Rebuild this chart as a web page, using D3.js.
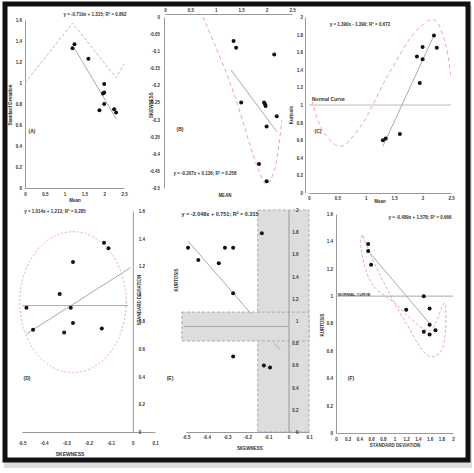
<!DOCTYPE html><html><head><script src="https://cdn.jsdelivr.net/npm/d3@7"></script>
<style>body{margin:0;background:#fff}text{font-family:"Liberation Sans",Arial,sans-serif;font-weight:bold;fill:#333}</style></head><body>
<svg id="s" width="474" height="473"></svg>
<script>
// Data
const aMean=[1.2,1.25,1.6,2.0,1.97,2.0,2.0,1.88,2.25,2.3];
const aSD=[1.33,1.37,1.23,0.99,0.90,0.91,0.80,0.74,0.75,0.72];
const bMean=[1.35,1.4,2.15,1.5,1.95,1.97,1.98,2.2,2.0,1.85,2.0];
const bSkew=[-0.07,-0.09,-0.11,-0.25,-0.25,-0.255,-0.26,-0.29,-0.32,-0.43,-0.48];
const cMean=[1.3,1.35,1.6,1.9,2.0,2.0,1.95,2.2,2.25];
const cKurt=[0.6,0.62,0.67,1.55,1.66,1.52,1.25,1.79,1.65];
const dSkew=[-0.48,-0.45,-0.33,-0.27,-0.28,-0.27,-0.31,-0.13,-0.11,-0.14];
const dSD=[0.9,0.74,1.0,1.23,0.9,0.79,0.72,1.37,1.33,0.75];
const eSkew=[-0.49,-0.44,-0.34,-0.31,-0.27,-0.27,-0.27,-0.13,-0.12,-0.09];
const eKurt=[1.66,1.55,1.52,1.66,1.66,1.25,0.68,1.79,0.6,0.58];
const fSD=[0.55,0.55,0.6,1.2,1.5,1.6,1.6,1.5,1.6,1.7];
const fKurt=[1.38,1.33,1.23,0.9,1.0,0.91,0.79,0.74,0.72,0.75];
const aCurve=[[0,1],[1.2,1.57],[2.3,1.05],[2.5,1.18]];
const bCurve=[[0.75,0],[1.3,-0.2],[1.85,-0.45],[2.0,-0.49],[2.15,-0.45],[2.3,-0.3]];
const cCurve=[[0.05,1.05],[0.25,0.7],[0.55,0.53],[0.9,0.75],[1.4,1.35],[1.9,1.85],[2.2,1.97],[2.4,1.7],[2.5,1.3]];
const fCurve=[[0.45,1.45],[0.7,1.2],[1.2,0.8],[1.6,0.56],[1.8,0.6],[1.85,0.95],[1.6,0.75],[1.0,0.95],[0.6,1.1],[0.42,1.4],[0.45,1.45]];

const svg=d3.select("#s");
svg.append("rect").attr("x",4).attr("y",6).attr("width",468).attr("height",462).attr("fill","#ddd");
svg.append("rect").attr("x",5).attr("y",4).attr("width",463).attr("height",456).attr("fill","#fff").attr("stroke","#111").attr("stroke-width",5);
const fs=4.5;
function txt(x,y,t,o={}){const e=svg.append("text").attr("x",x).attr("y",y).attr("font-size",o.s||fs).attr("text-anchor",o.a||"middle").text(t);if(o.r)e.attr("transform",`rotate(-90,${x},${y})`);return e;}
function pts(x,y,xs,ys,r=2){xs.forEach((v,i)=>svg.append("circle").attr("cx",x(v)).attr("cy",y(ys[i])).attr("r",r).attr("fill","#111"));}
function line(x,y,arr,st,dash,w=1,curve=d3.curveLinear){svg.append("path").attr("d",d3.line().x(d=>x(d[0])).y(d=>y(d[1])).curve(curve)(arr)).attr("fill","none").attr("stroke",st).attr("stroke-width",w).attr("stroke-dasharray",dash||null);}
function axis(g,tr,ax){const a=svg.append("g").attr("transform",tr).call(ax);a.selectAll("text").attr("font-size",fs);a.selectAll("path,line").attr("stroke","#999");return a;}
const pink="#e8a8b0";

// A
let x=d3.scaleLinear([0,2.5],[25,124]),y=d3.scaleLinear([0,1.6],[188,20]);
axis(0,`translate(0,188)`,d3.axisBottom(x).tickValues([0,0.5,1,1.5,2,2.5]).tickSize(0).tickPadding(5).tickFormat(d3.format("")));
axis(0,`translate(25,0)`,d3.axisLeft(y).tickValues(d3.range(0,1.61,0.2)).tickSize(0).tickPadding(3).tickFormat(d=>+d.toFixed(1)));
line(x,y,aCurve,"#bbb","3,2");
line(x,y,[[1.25,1.33],[2.3,0.66]],"#aaa");
pts(x,y,aMean,aSD);
txt(95,16,"y = -0.719x + 1.315; R² = 0.862");txt(32,133,"(A)",{s:5});
txt(12,105,"Standard Deviation",{r:1});txt(75,202,"Mean");
// B
x=d3.scaleLinear([0,2.5],[165,292]);y=d3.scaleLinear([-0.5,0],[188,17]);
axis(0,`translate(0,14)`,d3.axisTop(x).tickValues([0,0.5,1,1.5,2,2.5]).tickSize(0).tickPadding(2).tickFormat(d3.format("")));
axis(0,`translate(164,0)`,d3.axisLeft(y).tickValues(d3.range(-0.5,0.01,0.05)).tickSize(0).tickPadding(4).tickFormat(d=>Math.abs(d)<1e-9?"0":+d.toFixed(2)));
line(x,y,bCurve,pink,"4,3",1,d3.curveCatmullRom);
line(x,y,[[1.3,-0.155],[2.2,-0.335]],"#aaa");
pts(x,y,bMean,bSkew);
txt(205,175,"y = -0.207x + 0.136; R² = 0.258");txt(180,131,"(B)",{s:5});
txt(153,105,"SKEWNESS",{r:1});txt(225,197,"MEAN");
// C
x=d3.scaleLinear([0,2.5],[309,451]);y=d3.scaleLinear([0,2],[193,17]);
axis(0,`translate(0,193)`,d3.axisBottom(x).tickValues([0,0.5,1,1.5,2,2.5]).tickSize(0).tickPadding(4).tickFormat(d3.format("")));
axis(0,`translate(305,0)`,d3.axisLeft(y).tickValues(d3.range(0,2.01,0.2)).tickSize(0).tickPadding(2).tickFormat(d=>+d.toFixed(1)));
line(x,y,[[0,1],[2.5,1]],"#bbb");
line(x,y,cCurve,pink,"4,3",1,d3.curveCatmullRom);
line(x,y,[[1.3,0.53],[2.2,1.79]],"#aaa");
pts(x,y,cMean,cKurt);
txt(360,26,"y = 1.390x - 1.390; R² = 0.672");txt(312,101,"Normal Curve",{a:"start",s:5});txt(318,133,"(C)",{s:5});
txt(293,115,"Kurtosis",{r:1});txt(380,203,"Mean");
// D
x=d3.scaleLinear([-0.5,0.1],[22,155]);y=d3.scaleLinear([0,1.6],[432,211]);
axis(0,`translate(0,432)`,d3.axisBottom(x).tickValues([-0.5,-0.4,-0.3,-0.2,-0.1,0,0.1]).tickSize(0).tickPadding(10).tickFormat(d=>Math.abs(d)<1e-9?"0":d.toFixed(1)));
axis(0,`translate(${x(0)},0)`,d3.axisRight(y).tickValues(d3.range(0,1.61,0.2)).tickSize(0).tickPadding(6).tickFormat(d=>+d.toFixed(1)));
svg.append("ellipse").attr("cx",x(-0.27)).attr("cy",y(0.94)).attr("rx",(x(-0.03)-x(-0.51))/2).attr("ry",(y(0.43)-y(1.45))/2).attr("fill","none").attr("stroke",pink).attr("stroke-dasharray","2,2");
line(x,y,[[-0.5,0.915],[-0.02,0.915]],"#aaa");
line(x,y,[[-0.48,0.71],[-0.01,1.19]],"#aaa");
pts(x,y,dSkew,dSD);
txt(55,213,"y = 1.014x + 1.213; R² = 0.285");txt(27,380,"(D)",{s:5});
txt(141,300,"STANDARD DEVIATION",{r:1});txt(70,456,"SKEWNESS",{s:5});
// E
x=d3.scaleLinear([-0.5,0.1],[186,309]);y=d3.scaleLinear([0,2],[432,210]);
svg.append("rect").attr("x",x(-0.15)).attr("y",y(2)).attr("width",x(0.1)-x(-0.15)).attr("height",y(0)-y(2)).attr("fill","#ddd").attr("stroke","#aaa").attr("stroke-dasharray","3,2");
svg.append("rect").attr("x",x(-0.52)).attr("y",y(1.08)).attr("width",x(0.1)-x(-0.52)).attr("height",y(0.82)-y(1.08)).attr("fill","#ddd").attr("stroke","#aaa").attr("stroke-dasharray","3,2");
line(x,y,[[-0.51,0.95],[0,0.95]],"#aaa");
axis(0,`translate(0,432)`,d3.axisBottom(x).tickValues([-0.5,-0.4,-0.3,-0.2,-0.1,0,0.1]).tickSize(0).tickPadding(4).tickFormat(d=>Math.abs(d)<1e-9?"0":d.toFixed(1)));
axis(0,`translate(${x(0)},0)`,d3.axisLeft(y).tickValues(d3.range(0,2.01,0.2)).tickSize(0).tickPadding(-10).tickFormat(d=>+d.toFixed(1)));
line(x,y,[[-0.49,1.72],[-0.18,1.06]],"#aaa");
line(x,y,[[-0.07,0.8],[-0.04,0.74]],"#aaa");
pts(x,y,eSkew,eKurt);
txt(220,216,"y = -2.048x + 0.751; R² = 0.315",{s:5.5});txt(170,380,"(E)",{s:5});
txt(178,280,"KURTOSIS",{r:1});txt(250,450,"SKEWNESS");
// F
x=d3.scaleLinear([0,2],[336,453]);y=d3.scaleLinear([0,1.6],[433,214]);
axis(0,`translate(0,433)`,d3.axisBottom(x).tickValues(d3.range(0,2.01,0.2)).tickSize(0).tickPadding(5).tickFormat(d=>+d.toFixed(1)));
axis(0,`translate(336,0)`,d3.axisLeft(y).tickValues(d3.range(0,1.61,0.2)).tickSize(0).tickPadding(3).tickFormat(d=>+d.toFixed(1)));
line(x,y,[[0,1],[2,1]],"#aaa");
line(x,y,fCurve,pink,"3,2",1,d3.curveCatmullRomClosed);
line(x,y,[[0.55,1.33],[1.6,0.8]],"#aaa");
pts(x,y,fSD,fKurt);
txt(420,219,"y = -0.489x + 1.578; R² = 0.666");txt(338,296,"NORMAL CURVE",{a:"start",s:4});txt(351,380,"(F)",{s:5});
txt(324,325,"KURTOSIS",{r:1});txt(395,447,"STANDARD DEVIATION");
</script></body></html>
